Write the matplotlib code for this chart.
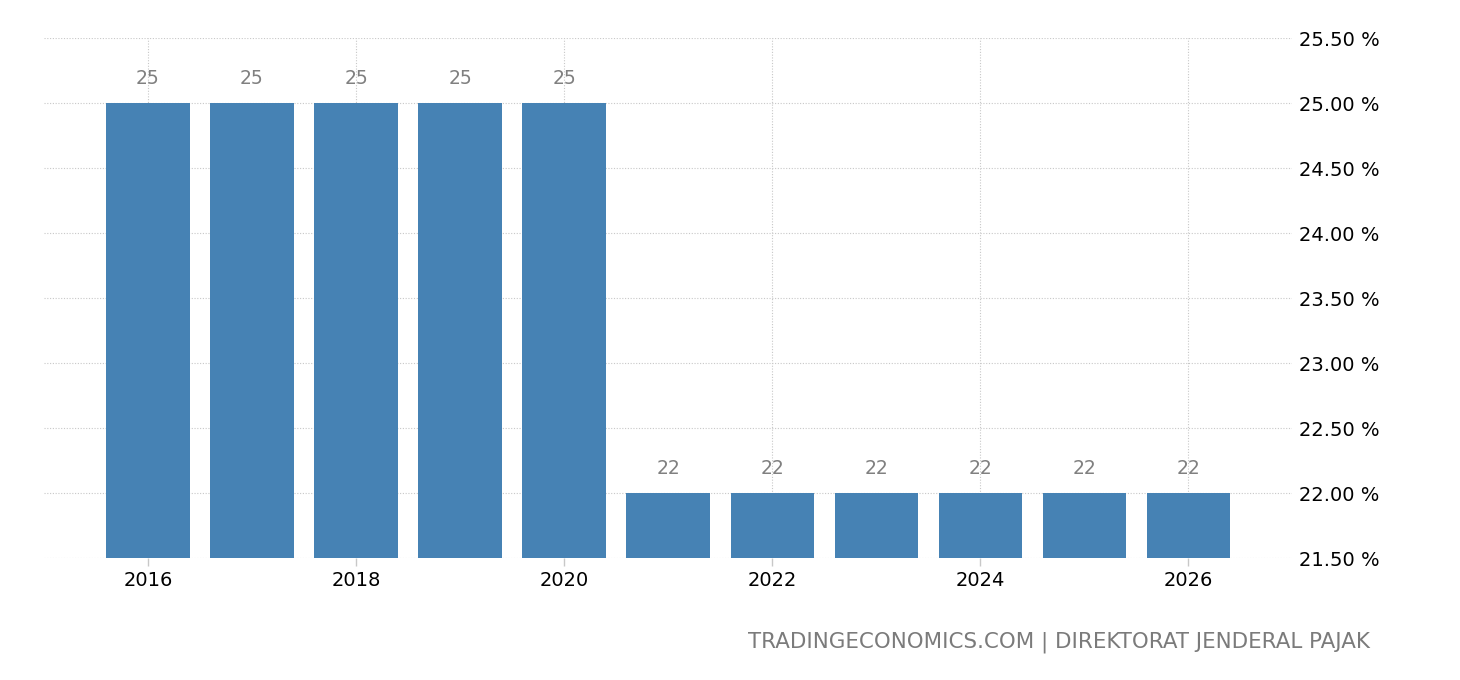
import matplotlib.pyplot as plt
from matplotlib.ticker import FuncFormatter, MultipleLocator

# corporate income tax rate, Indonesia
years = [2016, 2017, 2018, 2019, 2020, 2021, 2022, 2023, 2024, 2025, 2026]
rates = [25, 25, 25, 25, 25, 22, 22, 22, 22, 22, 22]
source = "TRADINGECONOMICS.COM | DIREKTORAT JENDERAL PAJAK"

fig = plt.figure(figsize=(14.6, 6.8), dpi=100)
ax = fig.add_axes([0.0301, 0.1794, 0.855, 0.7647])

ax.bar(years, rates, width=0.8, color="#4682b4", zorder=3)
for x, v in zip(years, rates):
    ax.text(x, v + 0.19, f"{v}", ha="center", va="center",
            fontsize=13.5, color="#808080", zorder=4)

ax.set_xlim(2015, 2027)
ax.set_ylim(21.5, 25.5)
ax.yaxis.set_major_locator(MultipleLocator(0.5))
ax.yaxis.set_major_formatter(FuncFormatter(lambda v, p: f"{v:.2f} %"))
ax.set_xticks(years[::2])
ax.yaxis.tick_right()

ax.grid(True, color="#c8c8c8", linestyle=(0, (1, 1.5)), linewidth=0.8, zorder=0)
for s in ax.spines.values():
    s.set_visible(False)

ax.tick_params(axis="y", length=0, pad=5, labelsize=14, labelcolor="black")
ax.tick_params(axis="x", length=6, width=1, color="#c8c8c8", pad=3,
               labelsize=14, labelcolor="black")

fig.text(0.938, 0.056, source, ha="right", va="center", fontsize=15.4,
         color="#7b7b7b")

fig.savefig("out.png", dpi=100)
